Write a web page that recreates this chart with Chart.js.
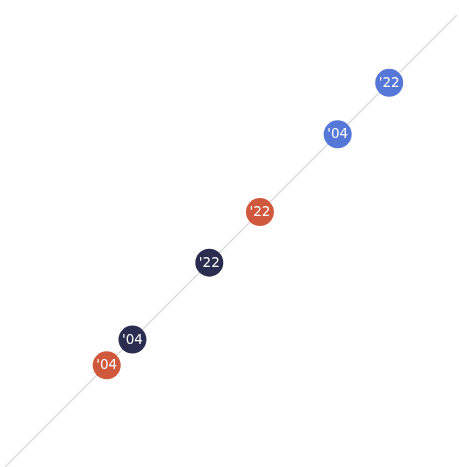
<!DOCTYPE html>
<html><head><meta charset="utf-8">
<script src="https://cdn.jsdelivr.net/npm/chart.js@4"></script>
<style>html,body{margin:0;padding:0;background:#fff}#w{width:459px;height:467px}</style>
</head><body><div id="w"><canvas id="c"></canvas></div>
<script>
const seriesNames = ["A", "B", "C"];
const seriesColors = ["#d0583c", "#2a2d4f", "#5577d8"];
const years = ["'04", "'22"];
const values04 = [22.5, 28.2, 73.6];
const values22 = [56.4, 45.2, 85.0];
const diagonal = [0, 100];

const datasets = [];
seriesNames.forEach((n, i) => {
  datasets.push({
    label: n,
    data: [
      {x: values04[i], y: values04[i], t: years[0]},
      {x: values22[i], y: values22[i], t: years[1]}
    ],
    backgroundColor: seriesColors[i],
    borderColor: seriesColors[i],
    borderWidth: 0,
    pointRadius: 14,
    pointHoverRadius: 14,
    showLine: false,
    order: 1
  });
});
datasets.push({
  label: 'diag',
  data: diagonal.map(v => ({x: v, y: v})),
  borderColor: '#dcdcdc',
  borderWidth: 1.5,
  pointRadius: 0,
  showLine: true,
  order: 2
});

const labelPlugin = {
  id: 'labels',
  afterDatasetsDraw(chart) {
    const ctx = chart.ctx;
    ctx.save();
    ctx.fillStyle = '#ffffff';
    ctx.font = '13.5px "DejaVu Sans"';
    ctx.textAlign = 'center';
    ctx.textBaseline = 'middle';
    chart.data.datasets.forEach((ds, di) => {
      if (ds.label === 'diag') return;
      chart.getDatasetMeta(di).data.forEach((el, j) => {
        ctx.fillText(ds.data[j].t, el.x, el.y + 0.5);
      });
    });
    ctx.restore();
  }
};

new Chart(document.getElementById('c'), {
  type: 'scatter',
  data: {datasets},
  options: {
    responsive: true,
    maintainAspectRatio: false,
    animation: false,
    layout: {autoPadding: false, padding: {left: 5, right: 2, top: 15, bottom: 0}},
    plugins: {legend: {display: false}, tooltip: {enabled: false}},
    scales: {
      x: {display: false, min: 0, max: 100},
      y: {display: false, min: 0, max: 100}
    }
  },
  plugins: [labelPlugin]
});
</script></body></html>
